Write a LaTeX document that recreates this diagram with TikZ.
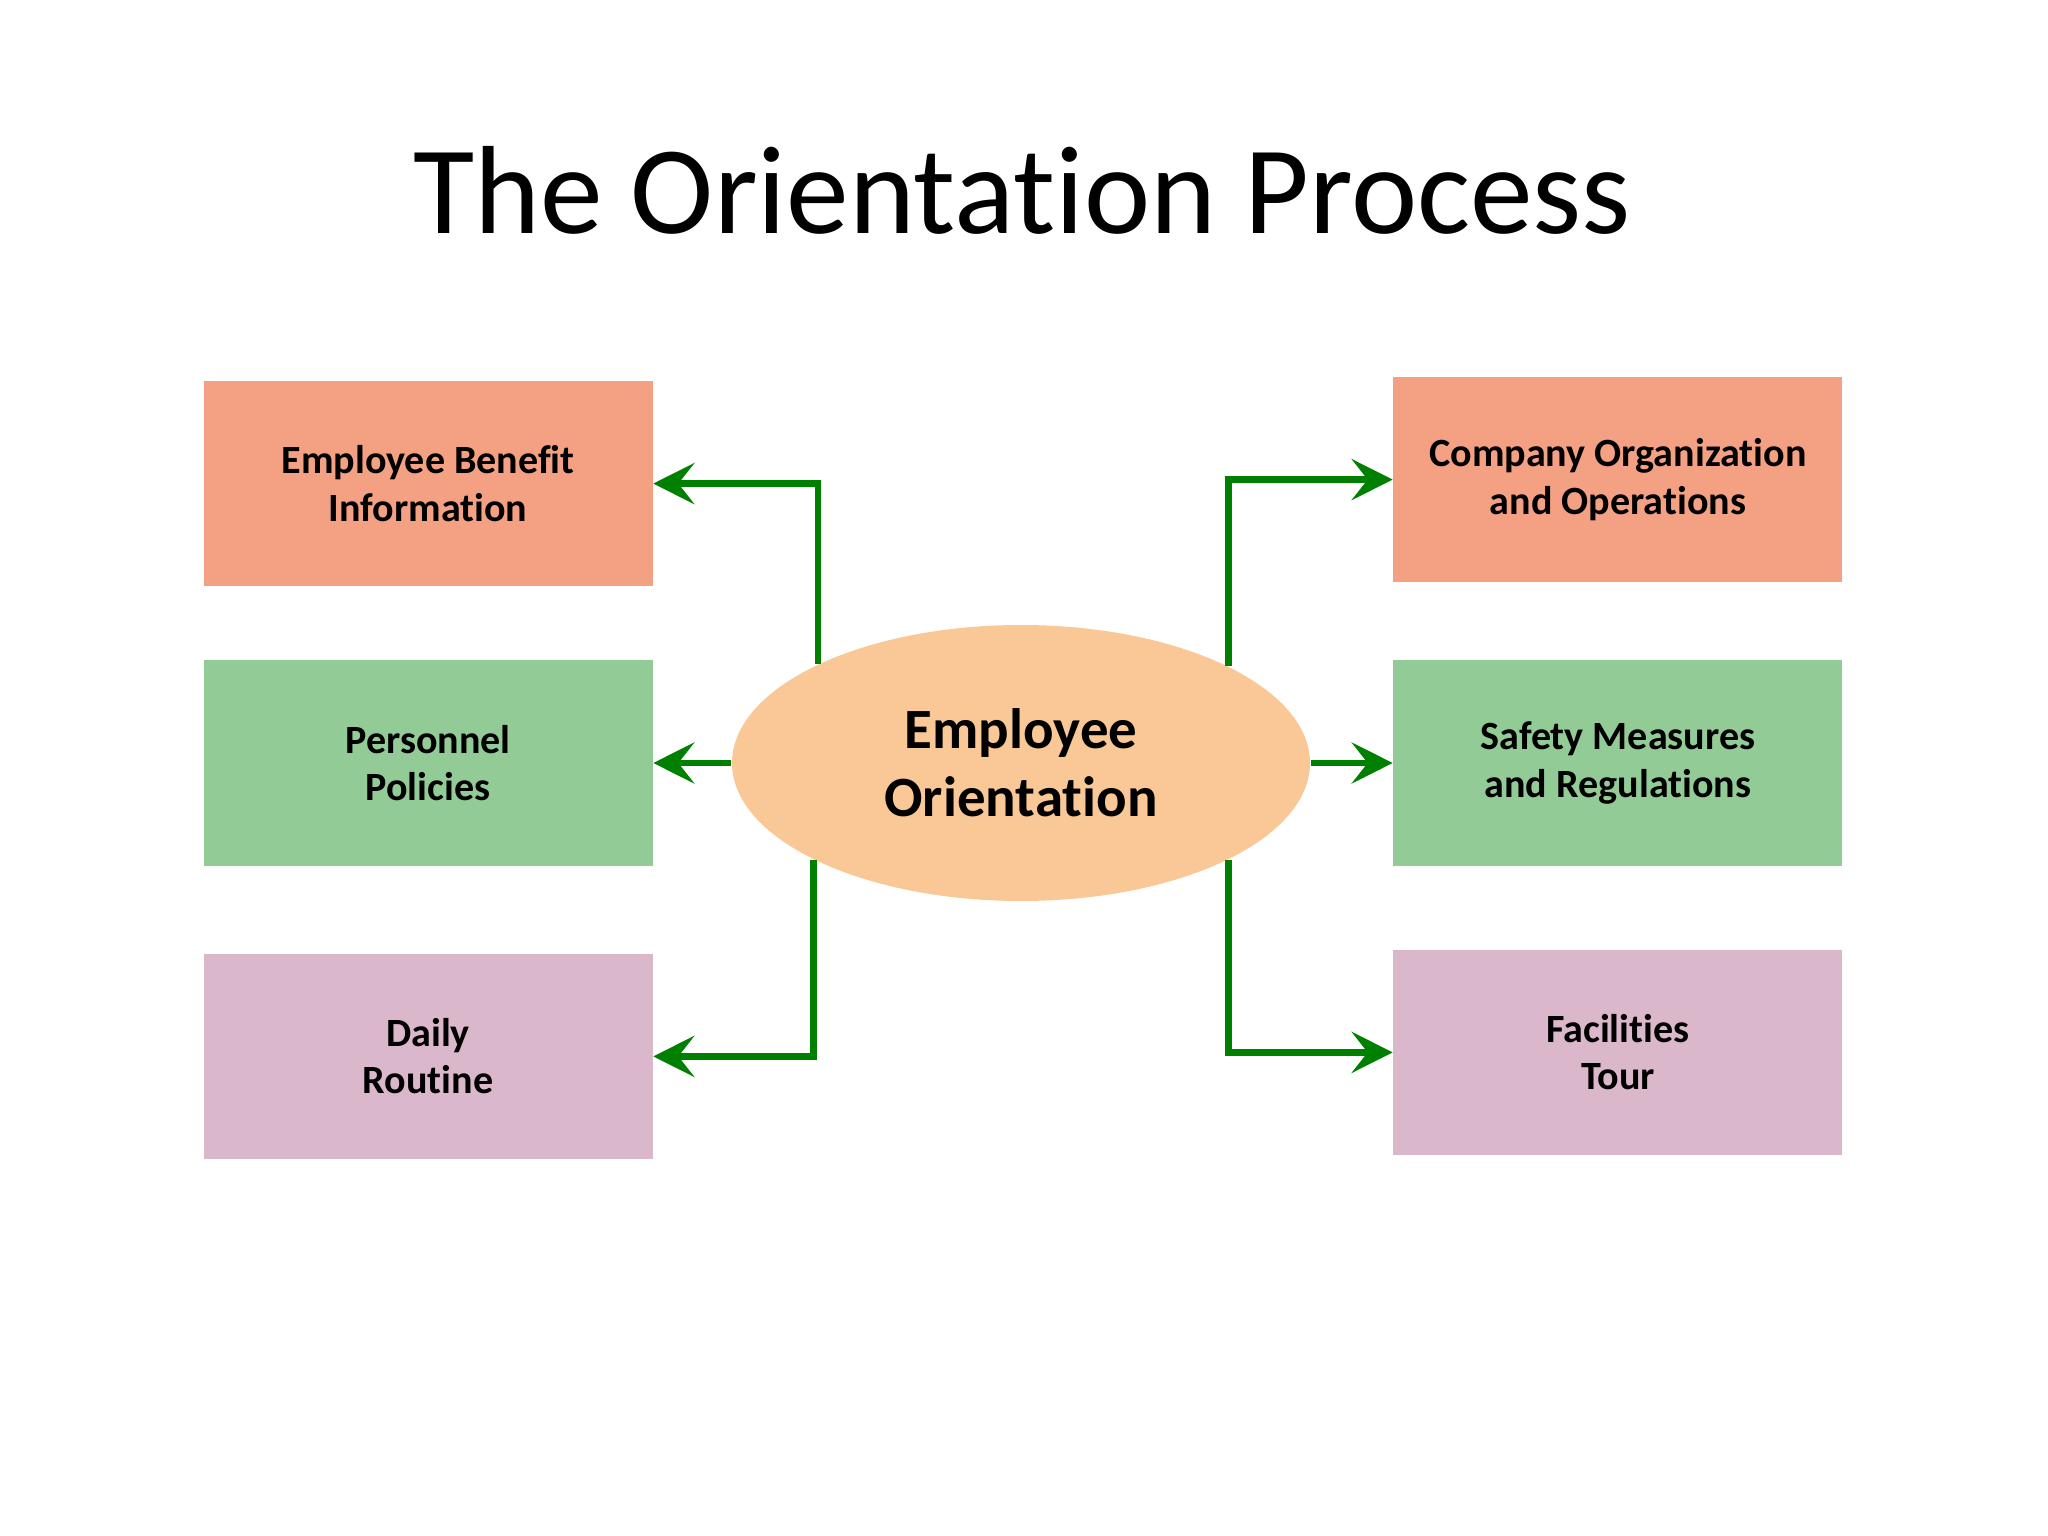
\documentclass[tikz,border=0pt]{standalone}
\usepackage{fontspec}
\setmainfont{Carlito}[Ligatures=NoCommon]
\usepackage{xcolor}
\usetikzlibrary{shapes.geometric, arrows.meta, positioning}

\definecolor{salmonbox}{RGB}{243,160,131}
\definecolor{greenbox}{RGB}{146,203,149}
\definecolor{pinkbox}{RGB}{218,183,202}
\definecolor{peach}{RGB}{250,200,150}
\definecolor{arrowgreen}{RGB}{0,128,0}

\begin{document}
\begin{tikzpicture}[
        topic/.style={rectangle, minimum width=4.49cm, minimum height=2.05cm, align=center,
            font=\fontsize{11.4}{13.4}\selectfont\bfseries},
        hub/.style={ellipse, fill=peach, minimum width=5.78cm, minimum height=2.76cm, inner sep=0pt,
            align=center, font=\fontsize{16.2}{19.3}\selectfont\bfseries},
        flow/.style={-{Stealth[length=4.1mm, width=4.1mm, inset=1.6mm]}, arrowgreen, line width=1.9pt}
    ]
    \useasboundingbox (0,0) rectangle (20.48,-15.36);

    % Title
    \node[font=\fontsize{35.7}{42}\selectfont] (title) at (10.22,-1.90) {The Orientation Process};

    % Nodes
    \node[hub] (emp) at (10.21,-7.63) {Employee\\Orientation};
    \node[topic, fill=greenbox, left=0.78cm of emp] (personnel) {Personnel\\Policies};
    \node[topic, fill=salmonbox, above=0.73cm of personnel] (benefit) {Employee Benefit\\Information};
    \node[topic, fill=pinkbox, below=0.87cm of personnel] (routine) {Daily\\Routine};
    \node[topic, fill=greenbox, right=0.82cm of emp] (safety) {Safety Measures\\and Regulations};
    \node[topic, fill=salmonbox, above=0.77cm of safety] (company) {Company Organization\\and Operations};
    \node[topic, fill=pinkbox, below=0.83cm of safety] (tour) {Facilities\\Tour};

    % Edges
    \draw[flow] (emp.154.7) |- (benefit.east);
    \draw[flow] (emp.west) -- (personnel.east);
    \draw[flow] (emp.205.3) |- (routine.east);
    \draw[flow] (emp.25.3) |- (company.west);
    \draw[flow] (emp.east) -- (safety.west);
    \draw[flow] (emp.-25.3) |- (tour.west);

\end{tikzpicture}
\end{document}
